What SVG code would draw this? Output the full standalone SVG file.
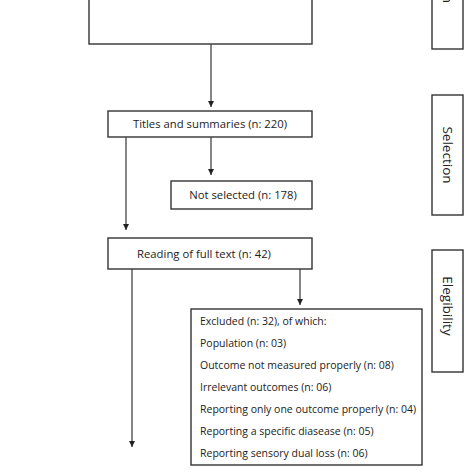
<svg xmlns="http://www.w3.org/2000/svg" width="474" height="474" viewBox="0 0 474 474">
<defs>
<marker id="ah" viewBox="0 0 6 6" refX="6" refY="3" markerWidth="6" markerHeight="6" markerUnits="userSpaceOnUse" orient="auto">
<path d="M0,0 L6,3 L0,6 Z" fill="#222"/>
</marker>
<style>
.box{fill:#fff;stroke:#333;stroke-width:1.4}
.t{font-family:"Open Sans","Noto Sans",sans-serif;font-size:10.5px;fill:#222}
.u{font-size:11.3px}
.side{font-family:"Open Sans","Noto Sans",sans-serif;font-size:13.5px;fill:#222}
.c{fill:none;stroke:#444;stroke-width:1.3;marker-end:url(#ah)}
</style>
</defs>
<rect width="474" height="474" fill="#fff"/>
<g id="top-box"><rect class="box" x="89" y="-5" width="223" height="49"/></g>
<g id="side-identification"><rect class="box" x="432" y="-5" width="31" height="54"/>
<text class="side" transform="translate(443,3) rotate(90)" text-anchor="end">n</text></g>
<g id="side-selection"><rect class="box" x="432" y="95" width="31" height="120"/>
<text class="side" transform="translate(442.5,155) rotate(90)" text-anchor="middle">Selection</text></g>
<g id="side-elegibility"><rect class="box" x="432" y="250" width="31" height="122"/>
<text class="side" transform="translate(442.5,306) rotate(90)" text-anchor="middle">Elegibility</text></g>
<g id="titles"><rect class="box" x="108" y="111" width="204" height="26"/>
<text class="t u" x="210" y="128" text-anchor="middle">Titles and summaries (n: 220)</text></g>
<g id="not-selected"><rect class="box" x="171" y="181" width="141" height="28"/>
<text class="t u" x="243" y="198.5" text-anchor="middle">Not selected (n: 178)</text></g>
<g id="reading"><rect class="box" x="108" y="238" width="204" height="31"/>
<text class="t u" x="204" y="257.5" text-anchor="middle">Reading of full text (n: 42)</text></g>
<g id="excluded"><rect class="box" x="191" y="309" width="231" height="156"/>
<text class="t" x="200" y="325">Excluded (n: 32), of which:</text>
<text class="t" x="200" y="347">Population (n: 03)</text>
<text class="t" x="200" y="369">Outcome not measured properly (n: 08)</text>
<text class="t" x="200" y="391">Irrelevant outcomes (n: 06)</text>
<text class="t" x="200" y="413">Reporting only one outcome properly (n: 04)</text>
<text class="t" x="200" y="435">Reporting a specific diasease (n: 05)</text>
<text class="t" x="200" y="457">Reporting sensory dual loss (n: 06)</text></g>
<g id="connectors">
<line class="c" x1="211" y1="44" x2="211" y2="107"/>
<line class="c" x1="126" y1="137" x2="126" y2="230"/>
<line class="c" x1="211" y1="137" x2="211" y2="175"/>
<line class="c" x1="300" y1="269" x2="300" y2="305"/>
<line class="c" x1="132" y1="269" x2="132" y2="447"/>
</g>
</svg>
